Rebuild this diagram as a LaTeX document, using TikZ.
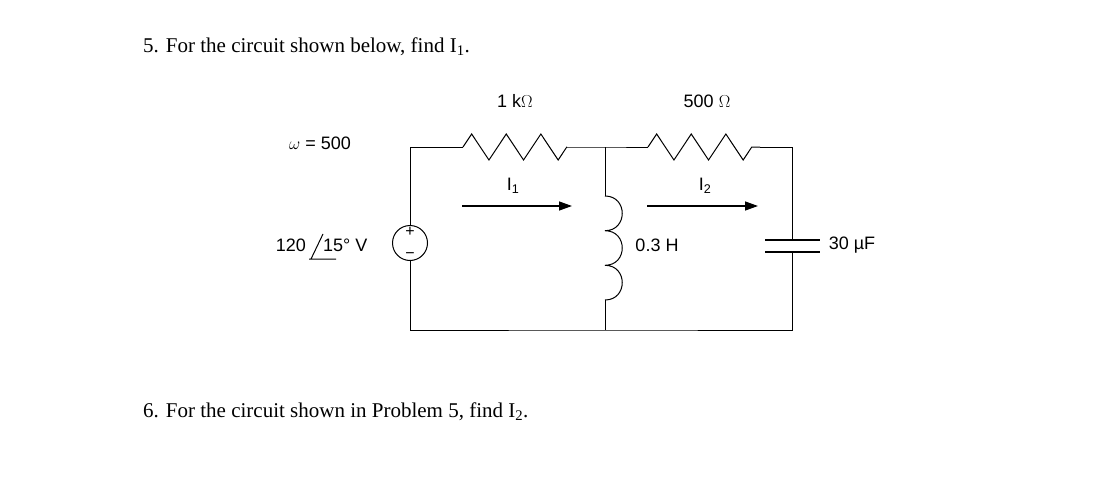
\documentclass[tikz,border=0pt]{standalone}
\usepackage{fontspec}
\setmainfont{Liberation Serif}
\newfontfamily\sfl{Liberation Sans}
\usetikzlibrary{decorations.pathmorphing,arrows.meta}
\begin{document}
\begin{tikzpicture}[x=1pt,y=-1pt,
  w/.style={line width=1pt},
  lab/.style={font=\sfl\fontsize{18}{20}\selectfont,inner sep=0pt},
  res/.style={w,decorate,decoration={zigzag,segment length=34.6pt,amplitude=13pt,pre length=0pt,post length=0pt}},
  cur/.style={line width=1.4pt,-{Triangle[length=13pt,width=9pt]}}]
\useasboundingbox (0,0) rectangle (1119,495);
\node[anchor=west,font=\fontsize{21}{24}\selectfont,inner sep=0pt] (t1) at (143,47) {5. For the circuit shown below, find I\textsubscript{1}.};
\node[anchor=west,font=\fontsize{21}{24}\selectfont,inner sep=0pt] (t2) at (143,412) {6. For the circuit shown in Problem 5, find I\textsubscript{2}.};
\coordinate (tl) at (410,147); \coordinate (tm) at (605,147); \coordinate (tr) at (792,147);
\coordinate (bl) at (410,330); \coordinate (bm) at (605,330); \coordinate (br) at (792,330);
\coordinate (r1a) at (463,147); \coordinate (r1b) at (567,147);
\coordinate (r2a) at (648,147); \coordinate (r2b) at (760,147);
\node[circle,draw,w,minimum size=35pt,inner sep=0pt] (vs) at (410,243) {};
\node[font=\sfl\fontsize{16}{16}\selectfont,inner sep=0pt] (pl) at (410,232) {+};
\node[font=\sfl\fontsize{16}{16}\selectfont,inner sep=0pt] (mi) at (410,256) {\textminus};
\coordinate (la) at (605,196); \coordinate (lb) at (605,300);
\coordinate (ca) at (792,240); \coordinate (cb) at (792,252);
\draw[w] (vs.north) -- (tl) -- (r1a);
\draw[res] (r1a) -- (r1b);
\draw[w] (r1b) -- (tm) -- (r2a);
\draw[res] (r2a) -- (r2b);
\draw[w] (r2b) -- (tr) -- (ca);
\draw[w] (cb) -- (br) -- (bm) -- (bl) -- (vs.south);
\draw[w] (tm) -- (la);
\draw[w] (la) .. controls (628,196) and (628,230.7) .. (605,230.7)
  .. controls (628,230.7) and (628,265.3) .. (605,265.3)
  .. controls (628,265.3) and (628,300) .. (lb);
\draw[w] (lb) -- (bm);
\draw[line width=1.3pt] (765,240) -- (820,240) (765,252) -- (820,252);
\coordinate (i1a) at (462,206); \coordinate (i1b) at (572,206);
\coordinate (i2a) at (647,206); \coordinate (i2b) at (758,206);
\draw[cur] (i1a) -- (i1b);
\draw[cur] (i2a) -- (i2b);
\node[lab] (l1) at (513,186) {I\textsubscript{1}};
\node[lab] (l2) at (705,186) {I\textsubscript{2}};
\node[lab] (lr1) at (515,101) {1 k$\Omega$};
\node[lab] (lr2) at (707,101) {500 $\Omega$};
\node[lab] (om) at (320,143) {$\omega$ = 500};
\node[lab] (lind) at (657,245) {0.3 H};
\node[lab] (lcap) at (852,245) {30 µF};
\node[lab,anchor=east] (v1) at (306,245) {120};
\node[lab,anchor=west] (v2) at (323,245) {15° V};
\draw[line width=1pt] (309,259) -- (336,259) (311,259) -- (323,234);
\end{tikzpicture}
\end{document}
